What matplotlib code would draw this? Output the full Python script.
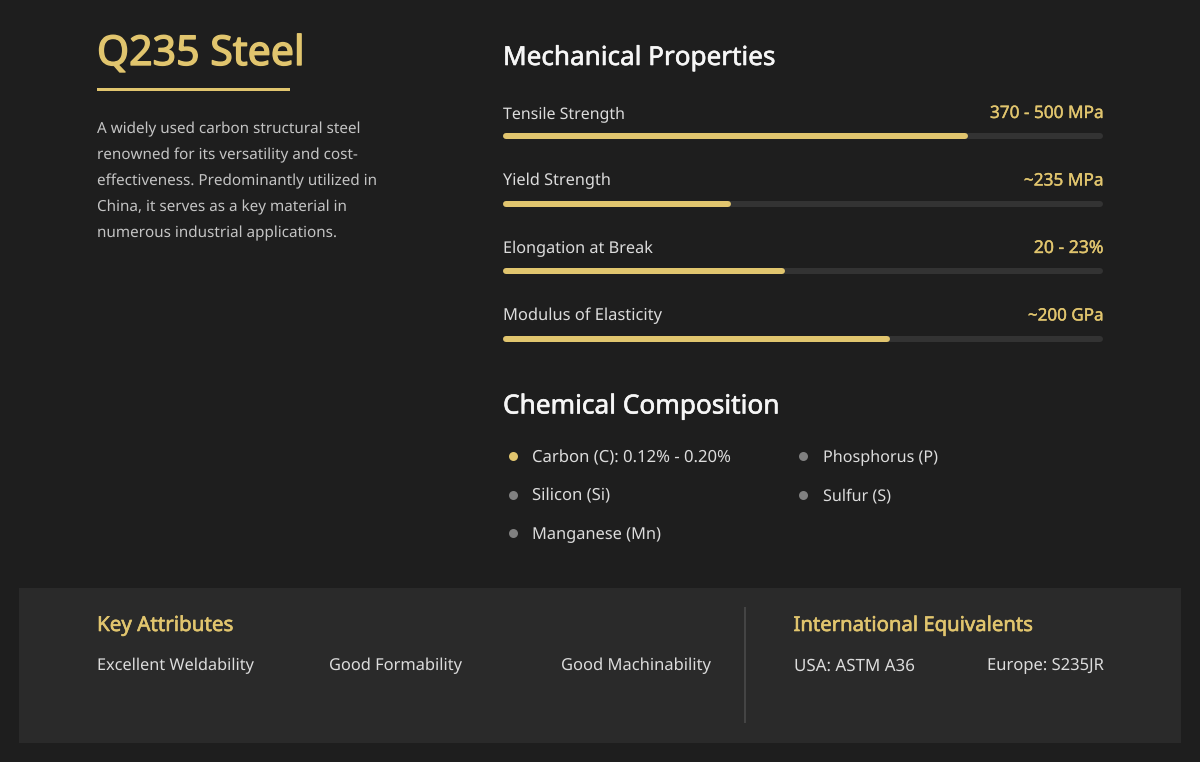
import matplotlib
matplotlib.use("Agg")
import matplotlib.pyplot as plt
import matplotlib.patheffects as pe
from matplotlib.patches import Rectangle

plt.rcParams["text.hinting"] = "no_hinting"

FONT = "Noto Sans"
BG = "#1e1e1e"
PANEL = "#2a2a2a"
GOLD = "#e1c56e"
TRACK = "#333333"
WHITE = "#f6f6f6"
LIGHT = "#dcdcdc"
DOT = "#808080"

title = "Q235 Steel"
description = [
    "A widely used carbon structural steel",
    "renowned for its versatility and cost-",
    "effectiveness. Predominantly utilized in",
    "China, it serves as a key material in",
    "numerous industrial applications.",
]
property_names = ["Tensile Strength", "Yield Strength", "Elongation at Break", "Modulus of Elasticity"]
property_values = ["370 - 500 MPa", "~235 MPa", "20 - 23%", "~200 GPa"]
property_fill = [77.5, 38.0, 47.0, 64.5]
chem_left = ["Carbon (C): 0.12% - 0.20%", "Silicon (Si)", "Manganese (Mn)"]
chem_right = ["Phosphorus (P)", "Sulfur (S)"]
attributes = ["Excellent Weldability", "Good Formability", "Good Machinability"]
equivalents = ["USA: ASTM A36", "Europe: S235JR"]

name_w = [121, 107, 149, 158]
val_w = [114, 80, 70, 76]
left_w = [199, 78, 129]
right_w = [115, 68]
attr_w = [157, 133, 150]
equiv_w = [121, 117]

fig = plt.figure(figsize=(12, 7.62), dpi=100, facecolor=BG)
ax = fig.add_axes([0, 0, 1, 1])
ax.set_xlim(0, 1200)
ax.set_ylim(762, 0)
ax.axis("off")
renderer = fig.canvas.get_renderer()


def label(x, y, s, width, color, stroke=0.0, ha="left"):
    """Place text on baseline y, sized so that it spans the given pixel width."""
    t = ax.text(x, y, s, fontsize=12, color=color, ha=ha, va="baseline", family=FONT)
    w = t.get_window_extent(renderer).width
    t.set_fontsize(12 * (width - stroke) / w)
    if stroke:
        t.set_path_effects([pe.withStroke(linewidth=stroke * 0.72, foreground=color)])
    return t


# Left column
label(97, 65, title, 209, GOLD, 1.4)
ax.add_patch(Rectangle((97, 88), 193, 3, color=GOLD, lw=0))
for i, line in enumerate(description):
    ax.text(97, 133 + i * 26, line, fontsize=15.25 * 0.72, color="#c4c4c4", ha="left",
            va="baseline", family=FONT)

# Mechanical properties
label(503, 65, "Mechanical Properties", 273, WHITE, 0.6)
X0, BAR_W = 503, 600
for i, (name, val, pct) in enumerate(zip(property_names, property_values, property_fill)):
    y_text = 118 + i * 67.5
    y_bar = 136 + i * 67.5
    label(503, y_text, name, name_w[i] + 1, LIGHT)
    label(1103.5, y_text, val, val_w[i], GOLD, 0.35, ha="right")
    ax.plot([X0 + 3, X0 + BAR_W - 3], [y_bar, y_bar], color=TRACK, lw=6 * 0.72,
            solid_capstyle="round")
    ax.plot([X0 + 3, X0 + BAR_W * pct / 100 - 3], [y_bar, y_bar], color=GOLD, lw=6 * 0.72,
            solid_capstyle="round")

# Chemical composition
label(503, 413.5, "Chemical Composition", 277, WHITE, 0.6)
for i, name in enumerate(chem_left):
    y = 456 + i * 38.7
    ax.plot([513], [y], "o", ms=9 * 0.72, color=GOLD if i == 0 else DOT, mew=0)
    label(532.5, y + 6, name, left_w[i], LIGHT)
for i, name in enumerate(chem_right):
    y = 456 + i * 38.7
    ax.plot([803], [y], "o", ms=9 * 0.72, color=DOT, mew=0)
    label(823, y + 6, name, right_w[i], LIGHT)

# Footer
ax.add_patch(Rectangle((19, 588), 1162, 155, color=PANEL, lw=0))
ax.add_patch(Rectangle((744, 607), 2, 116, color="#444444", lw=0))
label(97, 631, "Key Attributes", 137, GOLD, 0.6)
for x, name, w in zip([97, 329, 561], attributes, attr_w):
    label(x, 670.5, name, w, LIGHT)
label(793.5, 631, "International Equivalents", 240, GOLD, 0.6)
for x, name, w in zip([793.5, 987], equivalents, equiv_w):
    label(x, 670.5, name, w, LIGHT)

fig.savefig("out.png", dpi=100, facecolor=BG)
